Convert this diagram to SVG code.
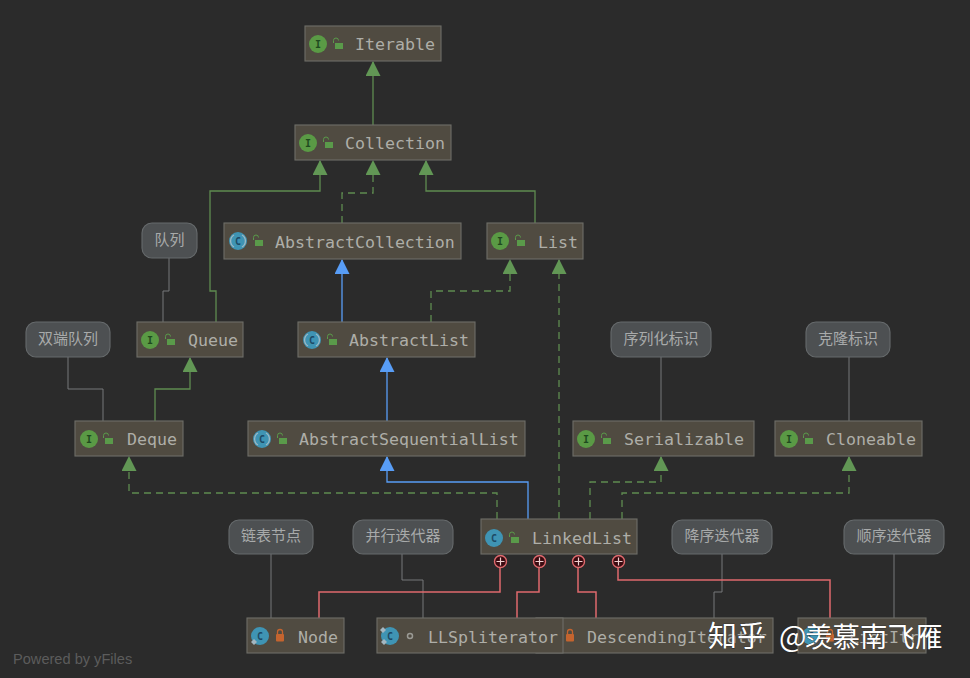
<svg xmlns="http://www.w3.org/2000/svg" xmlns:xlink="http://www.w3.org/1999/xlink" width="970" height="678" viewBox="0 0 970 678">
<style>
.n{fill:#504b41;stroke:#6e6e68;stroke-width:1.1}
.t{font-family:"DejaVu Sans Mono",monospace;font-size:16.6px;fill:#aeaea8}
.g{fill:#4d5052;stroke:#666a6c;stroke-width:1.1}
.gt{font-family:"Noto Sans CJK SC",sans-serif;font-size:15px;fill:#a8aaaa;text-anchor:middle}
.c{fill:none;stroke-width:1.3}
.ge{stroke:#5f8c50}.bl{stroke:#589df6}.gr{stroke:#77797b;stroke-width:1}.re{stroke:#e06a6e;stroke-width:1.5}
.da{stroke-dasharray:7 5}
.ic{font-family:"DejaVu Sans Mono",monospace;font-size:10px;font-weight:bold;text-anchor:middle}
.wm{font-family:"Noto Sans CJK SC",sans-serif;font-size:29px;fill:#fff;stroke:#222;stroke-width:.6;paint-order:stroke}
</style>
<defs>
<marker id="ga" markerUnits="userSpaceOnUse" markerWidth="16" markerHeight="16" refX="14" refY="7.5" orient="auto"><path d="M0 0L15 7.5L0 15z" fill="#629755"/></marker>
<marker id="ba" markerUnits="userSpaceOnUse" markerWidth="16" markerHeight="16" refX="14" refY="7.5" orient="auto"><path d="M0 0L15 7.5L0 15z" fill="#589df6"/></marker>
<g id="lk"><path d="M-3.500 -1v-2.500a2.500 2.500 0 0 1 5 0" fill="none" stroke="#5a9a4a" stroke-width="1"/><rect x="-2" y="-1" width="8" height="6" fill="#5a9a4a"/></g>
<g id="cl"><rect x="-4" y="-2" width="8" height="7.500" rx="1" fill="#c4642f"/><path d="M-2.500 -2v-2a2.500 2.500 0 0 1 5 0v2" fill="none" stroke="#c4642f" stroke-width="1.300"/></g>
<g id="ii"><circle r="9" fill="#5a9a45"/><text y="3.500" class="ic" fill="#1e4a1e">I</text></g>
<g id="cc"><circle r="9" fill="#3f94b4"/><text y="3.500" class="ic" fill="#1d4a66">C</text></g>
<g id="ac"><circle r="9" fill="#3f94b4"/><path d="M-4 -6A7 7 0 0 0 -4 6M4 -6A7 7 0 0 1 4 6" fill="none" stroke="#9db8c4" stroke-width="1.300"/><text y="3.500" class="ic" fill="#1d4a66">C</text></g>
<path id="st" d="M-3 0l3 -3l3 3l-3 3z" fill="#a4b6c0"/>
</defs>
<rect width="970" height="678" fill="#2b2b2b"/>
<g id="connectors">
<path class="c ge" marker-end="url(#ga)" d="M373 125V62"/>
<path class="c ge" marker-end="url(#ga)" d="M216 322V291H210V191H320V161"/>
<path class="c ge da" marker-end="url(#ga)" d="M342 223V193H373V161"/>
<path class="c ge" marker-end="url(#ga)" d="M535 223V191H426V161"/>
<path class="c bl" marker-end="url(#ba)" d="M342 322V260"/>
<path class="c ge da" marker-end="url(#ga)" d="M431 322V291H510V260"/>
<path class="c ge da" marker-end="url(#ga)" d="M559 519V260"/>
<path class="c bl" marker-end="url(#ba)" d="M387 421V358"/>
<path class="c ge" marker-end="url(#ga)" d="M155 421V389H190V358"/>
<path class="c bl" marker-end="url(#ba)" d="M528 519V482H387V457"/>
<path class="c ge da" marker-end="url(#ga)" d="M497 519V493H129V457"/>
<path class="c ge da" marker-end="url(#ga)" d="M590 519V482H661V457"/>
<path class="c ge da" marker-end="url(#ga)" d="M622 519V493H849V457"/>
<path class="c gr" d="M169 258V291H163V322"/>
<path class="c gr" d="M68 357V389H103V421"/>
<path class="c gr" d="M661 357V421"/>
<path class="c gr" d="M849 357V421"/>
<path class="c gr" d="M271 554V618"/>
<path class="c gr" d="M402 554V580H423V618"/>
<path class="c gr" d="M722 554V592H714V618"/>
<path class="c gr" d="M894 554V618"/>
<path class="c re" d="M500 568V592H319V618"/>
<path class="c re" d="M539 568V592H517V618"/>
<path class="c re" d="M578 568V592H596V618"/>
<path class="c re" d="M618 568V580H830V618"/>
<g fill="#3a0a10" stroke="#e06a6e" stroke-width="1.400">
<circle cx="500.500" cy="561.500" r="6"/><circle cx="539.500" cy="561.500" r="6"/><circle cx="578.500" cy="561.500" r="6"/><circle cx="618.500" cy="561.500" r="6"/>
</g>
<path d="M496.500 561.500h8M500.500 557.500v8M535.500 561.500h8M539.500 557.500v8M574.500 561.500h8M578.500 557.500v8M614.500 561.500h8M618.500 557.500v8" stroke="#f0d0d0" stroke-width="1.200"/>
</g>
<g id="iterable"><rect class="n" x="305" y="26" width="136" height="35"/><use xlink:href="#ii" x="318" y="44"/><use xlink:href="#lk" x="337" y="44"/><text class="t" x="355" y="50">Iterable</text></g>
<g id="collection"><rect class="n" x="295" y="125" width="156" height="35"/><use xlink:href="#ii" x="308" y="143"/><use xlink:href="#lk" x="327" y="143"/><text class="t" x="345" y="149">Collection</text></g>
<g id="abstractcollection"><rect class="n" x="224" y="223" width="237" height="36"/><use xlink:href="#ac" x="238" y="241"/><use xlink:href="#lk" x="257" y="241"/><text class="t" x="275" y="248">AbstractCollection</text></g>
<g id="list"><rect class="n" x="487" y="223" width="96" height="36"/><use xlink:href="#ii" x="500" y="241"/><use xlink:href="#lk" x="519" y="241"/><text class="t" x="538" y="248">List</text></g>
<g id="queue"><rect class="n" x="137" y="322" width="106" height="35"/><use xlink:href="#ii" x="150" y="340"/><use xlink:href="#lk" x="169" y="340"/><text class="t" x="188" y="346">Queue</text></g>
<g id="abstractlist"><rect class="n" x="298" y="322" width="177" height="35"/><use xlink:href="#ac" x="312" y="340"/><use xlink:href="#lk" x="331" y="340"/><text class="t" x="349" y="346">AbstractList</text></g>
<g id="deque"><rect class="n" x="75" y="421" width="108" height="35"/><use xlink:href="#ii" x="89" y="439"/><use xlink:href="#lk" x="107" y="439"/><text class="t" x="127" y="445">Deque</text></g>
<g id="abstractsequentiallist"><rect class="n" x="248" y="421" width="277" height="35"/><use xlink:href="#ac" x="262" y="439"/><use xlink:href="#lk" x="281" y="439"/><text class="t" x="299" y="445">AbstractSequentialList</text></g>
<g id="serializable"><rect class="n" x="573" y="421" width="181" height="35"/><use xlink:href="#ii" x="586" y="439"/><use xlink:href="#lk" x="605" y="439"/><text class="t" x="624" y="445">Serializable</text></g>
<g id="cloneable"><rect class="n" x="775" y="421" width="147" height="35"/><use xlink:href="#ii" x="789" y="439"/><use xlink:href="#lk" x="807" y="439"/><text class="t" x="826" y="445">Cloneable</text></g>
<g id="linkedlist"><rect class="n" x="481" y="519" width="156" height="35"/><use xlink:href="#cc" x="494" y="538"/><use xlink:href="#lk" x="513" y="538"/><text class="t" x="532" y="544">LinkedList</text></g>
<g id="node"><rect class="n" x="247" y="618" width="97" height="35"/><use xlink:href="#cc" x="260" y="636"/><use xlink:href="#st" x="254" y="642"/><use xlink:href="#cl" x="280" y="636"/><text class="t" x="298" y="643">Node</text></g>
<g id="descendingiterator"><rect class="n" x="536" y="618" width="237" height="35"/><use xlink:href="#cl" x="570" y="636"/><text class="t" x="587" y="643">DescendingIterator</text></g>
<g id="llspliterator"><rect class="n" x="377" y="618" width="186" height="35"/><use xlink:href="#cc" x="390" y="636"/><use xlink:href="#st" x="383" y="630"/><use xlink:href="#st" x="384" y="642"/><circle cx="410" cy="636" r="2.500" fill="none" stroke="#9a9a94" stroke-width="1.500"/><text class="t" x="428" y="643">LLSpliterator</text></g>
<g id="listitr"><rect class="n" x="798" y="618" width="128" height="35"/><use xlink:href="#cc" x="811" y="636"/><use xlink:href="#cl" x="830" y="636"/><text class="t" x="849" y="643">ListItr</text></g>
<g id="note-queue"><rect class="g" x="142" y="223" width="55" height="35" rx="10"/><text class="gt" x="169.500" y="245">队列</text></g>
<g id="note-deque"><rect class="g" x="26" y="322" width="84" height="35" rx="10"/><text class="gt" x="68" y="344">双端队列</text></g>
<g id="note-serializable"><rect class="g" x="611" y="322" width="100" height="35" rx="10"/><text class="gt" x="661" y="344">序列化标识</text></g>
<g id="note-cloneable"><rect class="g" x="806" y="322" width="84" height="35" rx="10"/><text class="gt" x="848" y="344">克隆标识</text></g>
<g id="note-node"><rect class="g" x="229" y="520" width="84" height="34" rx="10"/><text class="gt" x="271" y="541">链表节点</text></g>
<g id="note-llspliterator"><rect class="g" x="353" y="520" width="100" height="34" rx="10"/><text class="gt" x="403" y="541">并行迭代器</text></g>
<g id="note-descending"><rect class="g" x="672" y="520" width="100" height="34" rx="10"/><text class="gt" x="722" y="541">降序迭代器</text></g>
<g id="note-listitr"><rect class="g" x="844" y="520" width="100" height="34" rx="10"/><text class="gt" x="894" y="541">顺序迭代器</text></g>
<text x="13" y="664" font-family="Liberation Sans,sans-serif" font-size="14.600" fill="#5c5c5c">Powered by yFiles</text>
<text class="wm" x="708" y="647">知乎 <tspan x="779">@</tspan><tspan x="805" font-size="27.500">羡慕南飞雁</tspan></text>
</svg>
